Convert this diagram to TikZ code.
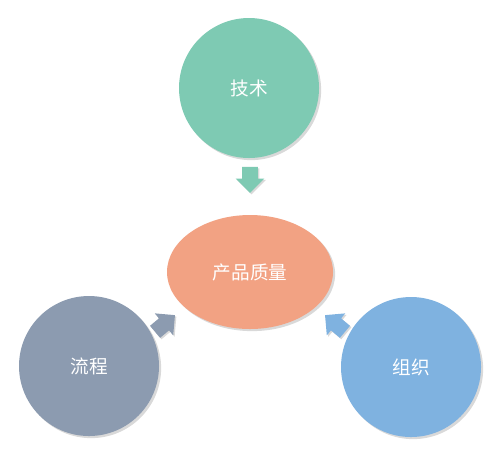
\documentclass[tikz,border=0pt]{standalone}
\usepackage{fontspec}
\newfontfamily\cjk{Noto Sans CJK SC}
\usetikzlibrary{shapes.geometric,shapes.arrows,shadows}
\definecolor{jishu}{HTML}{7ECAB3}
\definecolor{zhiliang}{HTML}{F2A283}
\definecolor{liucheng}{HTML}{8C9BB0}
\definecolor{zuzhi}{HTML}{7FB2E0}
\tikzset{
  ball/.style={circle, minimum size=2.8cm, inner sep=0pt, text=white,
    font=\cjk\fontsize{10.6}{12}\selectfont,
    drop shadow={opacity=0.3, shadow xshift=1.2pt, shadow yshift=-1.2pt}},
  blockarrow/.style={single arrow, inner sep=0pt, inner ysep=0.15cm,
    single arrow head extend=0.13cm, minimum height=0.52cm,
    drop shadow={opacity=0.3, shadow xshift=0.8pt, shadow yshift=-0.8pt}}
}
\begin{document}
\begin{tikzpicture}
    \useasboundingbox (0,0) rectangle (10,-9.14);
    \node[ball, fill=jishu] (jishu) at (4.98,-1.76) {技术};
    \node[ball, fill=zhiliang, ellipse, minimum width=3.32cm, minimum height=2.28cm] (zhiliang) at (5,-5.44) {产品质量};
    \node[ball, fill=liucheng] (liucheng) at (1.78,-7.32) {流程};
    \node[ball, fill=zuzhi] (zuzhi) at (8.22,-7.34) {组织};

    \node[blockarrow, fill=jishu, rotate=-90] (a1) at (5,-3.52) {};
    \node[blockarrow, fill=liucheng, rotate=40] (a2) at (3.24,-6.52) {};
    \node[blockarrow, fill=zuzhi, rotate=140] (a3) at (6.76,-6.52) {};
\end{tikzpicture}
\end{document}
